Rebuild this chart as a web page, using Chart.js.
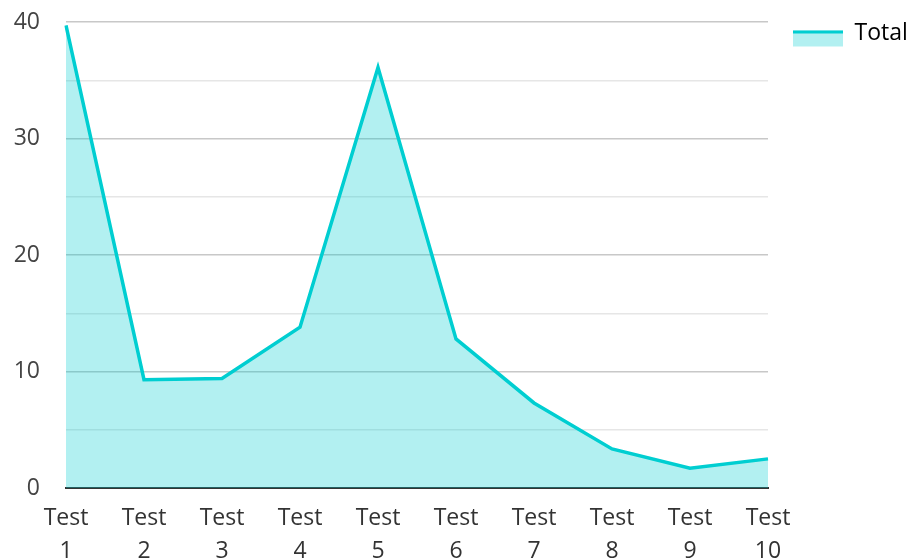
<!DOCTYPE html>
<html>
<head>
<meta charset="UTF-8">
<title>Total</title>
<script src="https://cdn.jsdelivr.net/npm/chart.js"></script>
<style>
  html, body { margin: 0; padding: 0; background: #fff; }
  #wrap { width: 910px; height: 560px; }
</style>
</head>
<body>
<div id="wrap"><canvas id="chart"></canvas></div>
<script>
const categories = ['Test 1', 'Test 2', 'Test 3', 'Test 4', 'Test 5', 'Test 6', 'Test 7', 'Test 8', 'Test 9', 'Test 10'];
const totalValues = [39.7, 9.3, 9.4, 13.8, 36.1, 12.8, 7.3, 3.35, 1.7, 2.5];
const yTicks = [0, 10, 20, 30, 40];

const lineColor = 'rgb(0, 206, 209)';
const fillColor = 'rgba(0, 206, 209, 0.3)';

// legend swatch: light fill with a thick top edge, sitting a bit below the text centre
const legendSwatch = {
  id: 'legendSwatch',
  afterDraw(chart) {
    const legend = chart.legend;
    if (!legend || !legend.legendHitBoxes.length) return;
    const box = legend.legendHitBoxes[0];
    const ctx = chart.ctx;
    const w = legend.options.labels.boxWidth;
    const top = box.top + box.height / 2 - 3;
    ctx.save();
    ctx.fillStyle = fillColor;
    ctx.fillRect(box.left, top, w, 16);
    ctx.fillStyle = lineColor;
    ctx.fillRect(box.left, top, w, 3);
    ctx.restore();
  }
};

new Chart(document.getElementById('chart'), {
  type: 'line',
  data: {
    labels: categories.map(c => c.split(' ')),
    datasets: [{
      label: 'Total',
      data: totalValues,
      borderColor: lineColor,
      backgroundColor: fillColor,
      borderWidth: 3.5,
      fill: 'origin',
      tension: 0,
      pointRadius: 0,
      pointHoverRadius: 0
    }]
  },
  options: {
    responsive: true,
    maintainAspectRatio: false,
    animation: false,
    layout: { padding: { top: -3, left: 13, right: 0, bottom: 0 } },
    plugins: {
      tooltip: { enabled: false },
      legend: {
        position: 'right',
        align: 'start',
        maxWidth: 142,
        labels: {
          boxWidth: 50,
          boxHeight: 14,
          padding: 25,
          color: '#333',
          font: { family: 'Open Sans', size: 23 },
          generateLabels: chart => [{
            text: 'Total',
            fillStyle: 'rgba(0,0,0,0)',
            strokeStyle: 'rgba(0,0,0,0)',
            lineWidth: 0,
            datasetIndex: 0
          }]
        }
      }
    },
    scales: {
      x: {
        offset: false,
        grid: { display: false },
        border: { display: true, color: '#333', width: 2 },
        afterFit: s => { s.height = 72; s.paddingLeft = 0; s.paddingRight = 0; },
        ticks: {
          color: '#333',
          font: { family: 'Open Sans', size: 23, lineHeight: 1.43 },
          maxRotation: 0,
          autoSkip: false,
          padding: 6
        }
      },
      y: {
        min: 0,
        max: 40,
        border: { display: false },
        afterFit: s => { s.width = 53; s.paddingTop = 22; s.paddingBottom = 0; },
        grid: {
          drawTicks: false,
          color: ctx => (ctx.tick && yTicks.includes(ctx.tick.value)) ? '#c8c8c8' : '#e6e6e6',
          lineWidth: 1.5
        },
        ticks: {
          stepSize: 5,
          padding: 26,
          color: '#444',
          font: { family: 'Open Sans', size: 23 },
          callback: v => yTicks.includes(v) ? v : ''
        }
      }
    }
  },
  plugins: [legendSwatch]
});
</script>
</body>
</html>
